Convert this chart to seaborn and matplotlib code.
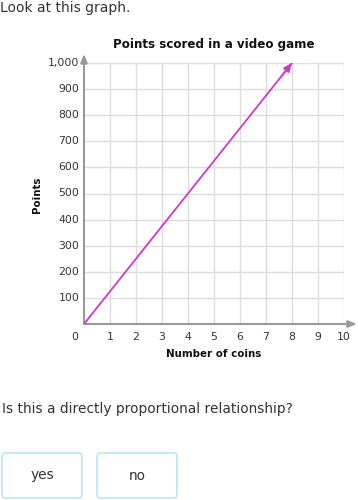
import matplotlib
matplotlib.use("Agg")
import matplotlib.pyplot as plt
import seaborn as sns
import pandas as pd
from matplotlib.patches import FancyBboxPatch

coins = [0, 8]
points = [0, 1000]
x_ticks = [1, 2, 3, 4, 5, 6, 7, 8, 9, 10]
y_ticks = [100, 200, 300, 400, 500, 600, 700, 800, 900, 1000]
y_labels = ["100", "200", "300", "400", "500", "600", "700", "800", "900", "1,000"]

sns.set_style("white")
plt.rcParams['font.family'] = ['DejaVu Sans']

W, H = 358, 500
fig = plt.figure(figsize=(W / 100, H / 100), dpi=100)

x0, x1 = 84, 344
y0, y1 = 324, 63
ax = fig.add_axes([x0 / W, 1 - y0 / H, (x1 - x0) / W, (y0 - y1) / H])
ax.set_xlim(0, 10)
ax.set_ylim(0, 1000)
for s in ax.spines.values():
    s.set_visible(False)

grid_c = "#dddddd"
for xv in x_ticks:
    ax.axvline(xv, color=grid_c, lw=1, zorder=0)
for yv in y_ticks:
    ax.axhline(yv, color=grid_c, lw=1, zorder=0)

ax.set_xticks([])
ax.set_yticks([])

txt_c = "#333333"
fs = 7.8
for xv in x_ticks:
    ax.text(xv, -50, str(xv), ha="center", va="center", fontsize=fs, color=txt_c)
ax.text(-0.35, -50, "0", ha="center", va="center", fontsize=fs, color=txt_c)
for yv, lab in zip(y_ticks, y_labels):
    ax.text(-0.18, yv, lab, ha="right", va="center", fontsize=fs, color=txt_c)

axis_c = "#999999"
ax.annotate("", xy=(10.5, 0), xytext=(0, 0), xycoords="data",
            arrowprops=dict(arrowstyle="-|>,head_length=0.5,head_width=0.2", color=axis_c, lw=1.5,
                            shrinkA=0, shrinkB=0), annotation_clip=False)
ax.annotate("", xy=(0, 1035), xytext=(0, 0), xycoords="data",
            arrowprops=dict(arrowstyle="-|>,head_length=0.5,head_width=0.2", color=axis_c, lw=1.5,
                            shrinkA=0, shrinkB=0), annotation_clip=False)

df = pd.DataFrame({"coins": coins, "points": points})
line_c = "#c83cc8"
sns.lineplot(data=df, x="coins", y="points", ax=ax, color=line_c, lw=1.3, zorder=3)
ax.annotate("", xy=(coins[-1], points[-1]), xytext=(coins[-1] - 0.4, points[-1] - 50),
            arrowprops=dict(arrowstyle="-|>,head_length=0.5,head_width=0.22", color=line_c, lw=1.3,
                            shrinkA=0, shrinkB=0), annotation_clip=False)
ax.set_xlabel("")
ax.set_ylabel("")

ax.text(5, 1072, "Points scored in a video game", ha="center", va="center",
        fontsize=8.6, fontweight="bold", color="#111111")
fig.text(214 / W, 1 - 354 / H, "Number of coins", ha="center", va="center",
         fontsize=7.4, fontweight="bold", color="#111111")
fig.text(37 / W, 1 - 195 / H, "Points", ha="center", va="center", rotation=90,
         fontsize=7.4, fontweight="bold", color="#111111")

fig.text(0 / W, 1 - 8 / H, "Look at this graph.", ha="left", va="center",
         fontsize=10, color="#333333")
fig.text(2 / W, 1 - 409 / H, "Is this a directly proportional relationship?", ha="left", va="center",
         fontsize=9.9, color="#333333")

for bx, lab in [(2, "yes"), (97, "no")]:
    bw, bh, by = 80, 45, 453
    p = FancyBboxPatch((bx / W, 1 - (by + bh) / H), bw / W, bh / H,
                       boxstyle="round,pad=0,rounding_size=0.008",
                       transform=fig.transFigure, facecolor="white",
                       edgecolor="#c4eafa", lw=1.5)
    fig.patches.append(p)
    fig.text((bx + bw / 2) / W, 1 - (by + bh / 2) / H, lab, ha="center", va="center",
             fontsize=9.9, color="#333333")

fig.savefig("out.png", dpi=100)
